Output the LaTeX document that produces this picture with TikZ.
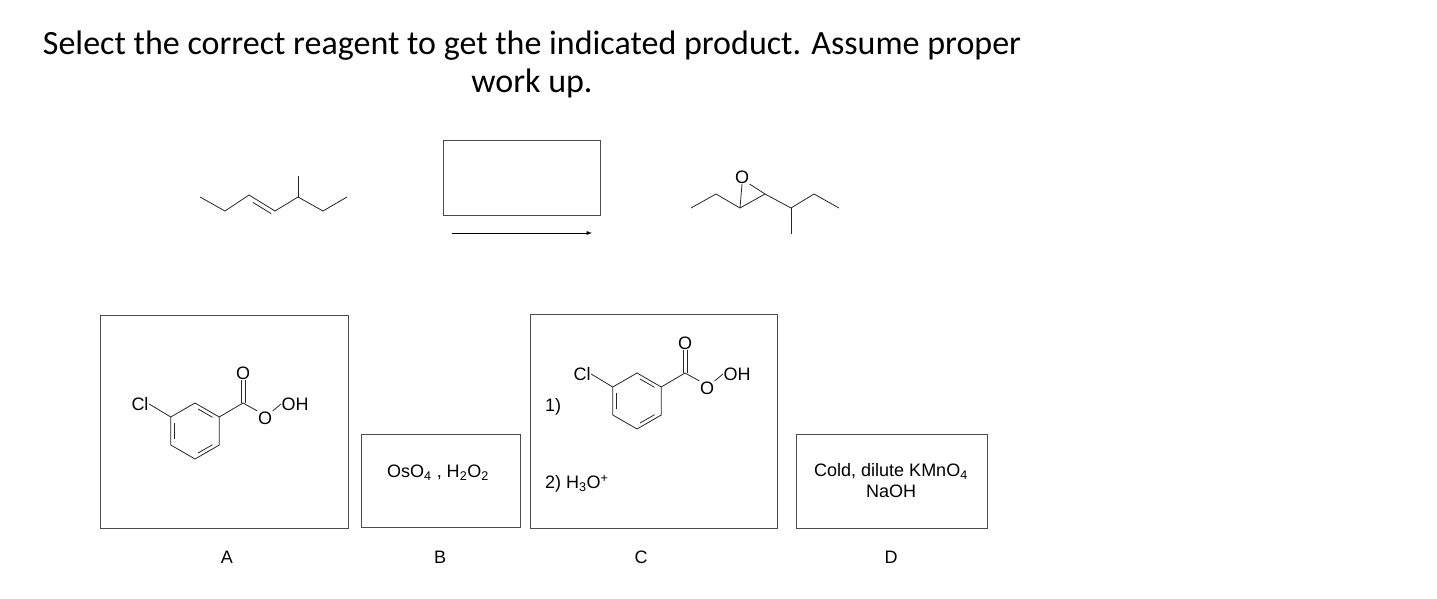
\documentclass[tikz,border=0pt]{standalone}
\usepackage{fontspec}
\usetikzlibrary{calc}
\setmainfont{Liberation Sans}
\newfontfamily\titlefont{Carlito}
\begin{document}
\begin{tikzpicture}[x=1pt,y=-1pt,
  bond/.style={line width=0.8pt,black!85},
  boxed/.style={draw=black!70,line width=0.9pt},
  lbl/.style={font=\fontsize{18}{21}\selectfont,inner sep=1pt},
  atom/.style={font=\fontsize{18}{20}\selectfont,inner sep=0.5pt,fill=white},
  mcpba/.pic={
    \foreach \a [count=\i] in {-90,-30,30,90,150,-150} \coordinate (-v\i) at (\a:28);
    \coordinate (-ctr) at (0,0);
    \draw[bond] (-v1)--(-v2)--(-v3)--(-v4)--(-v5)--(-v6)--cycle;
    \draw[bond] ($(-v1)!0.15!(-v2)!0.15!(-ctr)$)--($(-v2)!0.15!(-v1)!0.15!(-ctr)$);
    \draw[bond] ($(-v3)!0.15!(-v4)!0.15!(-ctr)$)--($(-v4)!0.15!(-v3)!0.15!(-ctr)$);
    \draw[bond] ($(-v5)!0.15!(-v6)!0.15!(-ctr)$)--($(-v6)!0.15!(-v5)!0.15!(-ctr)$);
    \node[atom] (-cl) at (-55,-27) {Cl};
    \draw[bond] (-v6)--(-cl.east);
    \coordinate (-c) at (48,-28);
    \draw[bond] (-v2)--(-c);
    \node[atom] (-o1) at (48,-58) {O};
    \draw[bond] ($(-c)+(-2,0)$)--($(-o1.south)+(-2,0)$);
    \draw[bond] ($(-c)+(2,0)$)--($(-o1.south)+(2,0)$);
    \node[atom] (-o2) at (70,-13) {O};
    \draw[bond] (-c)--(-o2.north west);
    \node[atom,anchor=west] (-oh) at (86,-27) {OH};
    \draw[bond] (-o2.north east)--(-oh.west);
  }]
\useasboundingbox (0,0) rectangle (1437,599);
\node[font=\titlefont\fontsize{34}{38}\selectfont,align=center] (title) at (532,64)
  {Select the correct reagent to get the indicated product. Assume proper\\work up.};
% reactant
\coordinate (r1) at (200,197); \coordinate (r2) at (225,211); \coordinate (r3) at (249,195);
\coordinate (r4) at (275,211); \coordinate (r5) at (298,197); \coordinate (r6) at (323,211);
\coordinate (r7) at (347,197); \coordinate (r8) at (298,176);
\draw[bond] (r1)--(r2)--(r3)--(r4)--(r5)--(r6)--(r7); \draw[bond] (r5)--(r8);
\draw[bond] ($(r3)!0.15!(r4)+(0,5)$)--($(r4)!0.15!(r3)+(0,5)$);
% reagent box and arrow
\node[boxed,minimum width=157pt,minimum height=75pt] (rbox) at (521.5,177.5) {};
\coordinate (a1) at (452,233); \coordinate (a2) at (592,233);
\draw[line width=0.9pt,-latex] (a1)--(a2);
% product epoxide
\coordinate (p1) at (691,208); \coordinate (p2) at (716,194); \coordinate (p3) at (740,208);
\coordinate (p4) at (765,194); \coordinate (p5) at (791,208); \coordinate (p6) at (814,194);
\coordinate (p7) at (839,208); \coordinate (p8) at (791,234);
\node[atom] (po) at (742,177) {O};
\draw[bond] (p1)--(p2)--(p3)--(p4)--(p5)--(p6)--(p7); \draw[bond] (p5)--(p8);
\draw[bond] (p3)--(po.south); \draw[bond] (p4)--(po.south east);
% option boxes
\node[boxed,minimum width=248pt,minimum height=213pt] (boxA) at (224,421.5) {};
\node[boxed,minimum width=159pt,minimum height=93pt] (boxB) at (440.5,480.5) {};
\node[boxed,minimum width=247pt,minimum height=214pt] (boxC) at (653.5,421) {};
\node[boxed,minimum width=191pt,minimum height=94pt] (boxD) at (891.5,481) {};
\pic (mA) at (195,431) {mcpba};
\pic (mC) at (637,401) {mcpba};
\node[lbl] (tB) at (438,473) {OsO\textsubscript{4} , H\textsubscript{2}O\textsubscript{2}};
\node[lbl] (c1) at (553,407) {1)};
\node[lbl,anchor=west] (c2) at (544,484) {2) H\textsubscript{3}O\textsuperscript{+}};
\node[lbl,align=center] (tD) at (891,481) {Cold, dilute KMnO\textsubscript{4}\\NaOH};
\node[lbl] (LA) at (227,557) {A};
\node[lbl] (LB) at (440,557) {B};
\node[lbl] (LC) at (641,557) {C};
\node[lbl] (LD) at (891,557) {D};
\end{tikzpicture}
\end{document}
